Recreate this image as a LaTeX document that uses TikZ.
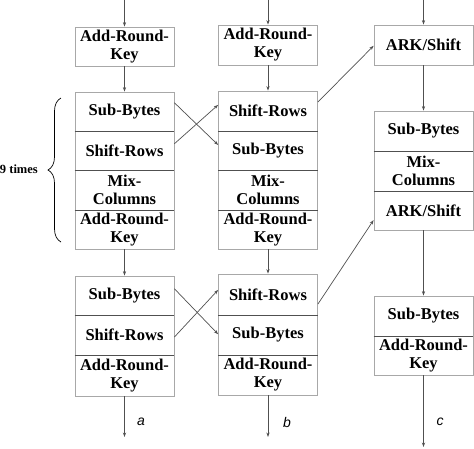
\documentclass[tikz,border=0pt]{standalone}
\usepackage{fontspec}
\setmainfont{Liberation Serif}
\newfontfamily\lblfont{Liberation Sans}
\usetikzlibrary{arrows.meta,decorations.pathreplacing,calc}
\definecolor{bordergray}{HTML}{A8A8A8}
\definecolor{divgray}{HTML}{505050}
\definecolor{arrgray}{HTML}{505050}
\tikzset{
  cell/.style={draw=bordergray, line width=0.8pt, minimum width=99pt, inner sep=0pt, align=center,
    font=\fontsize{16.5}{18}\selectfont\bfseries},
  divider/.style={draw=divgray, line width=1pt},
  arr/.style={draw=arrgray, line width=0.7pt, -{Stealth[length=4.5pt,width=3.2pt]}},
  lbl/.style={font=\lblfont\itshape\fontsize{14}{16}\selectfont},
}
\begin{document}
\begin{tikzpicture}[x=1pt,y=-1pt]
\useasboundingbox (0,0) rectangle (474,448);
% column a
\node[cell, minimum height=39pt] (aARK) at (124.5,46.5) {Add-Round-\\Key};
\node[cell, minimum height=39pt] (a1) at (124.5,111.5) {Sub-Bytes};
\node[cell, minimum height=39pt] (a2) at (124.5,150.5) {Shift-Rows};
\node[cell, minimum height=40pt] (a3) at (124.5,190) {Mix-\\Columns};
\node[cell, minimum height=39pt] (a4) at (124.5,229.5) {Add-Round-\\Key};
\node[cell, minimum height=39pt] (a5) at (124.5,295.5) {Sub-Bytes};
\node[cell, minimum height=40pt] (a6) at (124.5,335) {Shift-Rows};
\node[cell, minimum height=41pt] (a7) at (124.5,375.5) {Add-Round-\\Key};
% column b
\node[cell, minimum height=40pt] (bARK) at (268,45) {Add-Round-\\Key};
\node[cell, minimum height=40pt] (b1) at (268,111) {Shift-Rows};
\node[cell, minimum height=39pt] (b2) at (268,150.5) {Sub-Bytes};
\node[cell, minimum height=40pt] (b3) at (268,190) {Mix-\\Columns};
\node[cell, minimum height=39pt] (b4) at (268,229.5) {Add-Round-\\Key};
\node[cell, minimum height=41pt] (b5) at (268,294.5) {Shift-Rows};
\node[cell, minimum height=40pt] (b6) at (268,335) {Sub-Bytes};
\node[cell, minimum height=40pt] (b7) at (268,375) {Add-Round-\\Key};
% column c
\node[cell, minimum height=40pt] (cARK) at (423.5,45) {ARK/Shift};
\node[cell, minimum height=40pt] (c1) at (423.5,131) {Sub-Bytes};
\node[cell, minimum height=40pt] (c2) at (423.5,171) {Mix-\\Columns};
\node[cell, minimum height=39pt] (c3) at (423.5,210.5) {ARK/Shift};
\node[cell, minimum height=40pt] (c4) at (423.5,316) {Sub-Bytes};
\node[cell, minimum height=39pt] (c5) at (423.5,355.5) {Add-Round-\\Key};
% dividers
\foreach \n in {a1,a2,a3,a5,a6,b1,b2,b3,b5,b6,c1,c2,c4}
  \draw[divider] (\n.south west) -- (\n.south east);
% coordinates for free ends
\coordinate (aTop) at (124.5,0);
\coordinate (bTop) at (268,0);
\coordinate (cTop) at (423.5,0);
\coordinate (aEnd) at (124.5,437);
\coordinate (bEnd) at (268,437);
\coordinate (cEnd) at (423.5,447);
% vertical arrows
\draw[arr] (aTop) -- (aARK.north);
\draw[arr] (aARK.south) -- (a1.north);
\draw[arr] (a4.south) -- (a5.north);
\draw[arr] (a7.south) -- (aEnd);
\draw[arr] (bTop) -- (bARK.north);
\draw[arr] (bARK.south) -- (b1.north);
\draw[arr] (b4.south) -- (b5.north);
\draw[arr] (b7.south) -- (bEnd);
\draw[arr] (cTop) -- (cARK.north);
\draw[arr] (cARK.south) -- (c1.north);
\draw[arr] (c3.south) -- (c4.north);
\draw[arr] (c5.south) -- (cEnd);
% crossing arrows
\draw[arr] ($(a1.north east)!0.28!(a1.south east)$) -- ($(b2.north west)!0.36!(b2.south west)$);
\draw[arr] ($(a2.north east)!0.33!(a2.south east)$) -- ($(b1.north west)!0.35!(b1.south west)$);
\draw[arr] ($(a5.north east)!0.33!(a5.south east)$) -- ($(b6.north west)!0.48!(b6.south west)$);
\draw[arr] ($(a6.north east)!0.55!(a6.south east)$) -- ($(b5.north west)!0.39!(b5.south west)$);
% diagonals to c
\draw[arr] ($(b1.north east)!0.28!(b1.south east)$) -- ($(cARK.north west)!0.52!(cARK.south west)$);
\draw[arr] ($(b5.north east)!0.73!(b5.south east)$) -- ($(c3.north west)!0.74!(c3.south west)$);
% labels
\node[lbl] (la) at (141,422) {a};
\node[lbl] (lb) at (287,422) {b};
\node[lbl] (lc) at (440,422) {c};
% brace
\coordinate (brB) at (61,242);
\coordinate (brT) at (61,98);
\draw[line width=0.7pt, decorate, decoration={brace, amplitude=13pt}] (brB) -- (brT);
\node[anchor=east, inner sep=0pt, font=\fontsize{12.5}{14}\selectfont\bfseries] (times) at (38,169) {9 times};
\end{tikzpicture}
\end{document}
